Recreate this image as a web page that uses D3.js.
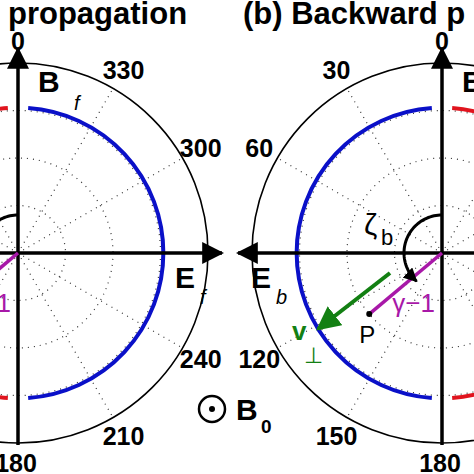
<!DOCTYPE html>
<html><head><meta charset="utf-8">
<script src="https://cdn.jsdelivr.net/npm/d3@7"></script>
<style>body{margin:0;background:#fff}</style>
</head><body>
<svg id="c" width="474" height="474"></svg>
<script>
// angle ticks (degrees, counter-clockwise from top)
var tickAngles = [30, 60, 120, 150, 210, 240, 300, 330];
var gridRings = [0.25, 0.5, 0.75];   // fraction of outer radius
var circleRadius = 0.765;            // coloured circle, fraction of outer radius
var panels = [
    {name: "f", cx: 18, title: "propagation", titleX: 8, side: 1,
     gammaAngle: 130, zeta: 60, zetaArrow: false},
    {name: "b", cx: 442, title: "(b) Backward p", titleX: 243, side: -1,
     gammaAngle: 130, zeta: 140, zetaArrow: true}
];

var svg = d3.select("#c");
var cy = 253, R = 190;
var r = d3.scaleLinear().domain([0, 1]).range([0, R]);
var font = "Liberation Sans, Arial, sans-serif";

var defs = svg.append("defs");
function marker(id, color, w){
    defs.append("marker").attr("id", id).attr("viewBox", "0 0 10 10")
        .attr("refX", 9).attr("refY", 5).attr("markerWidth", w).attr("markerHeight", w)
        .attr("markerUnits", "userSpaceOnUse").attr("orient", "auto")
        .append("path").attr("d", "M0,0L10,5L0,10Z").attr("fill", color);
}
marker("ab", "#000", 22);
marker("ag", "#138013", 24);
marker("as", "#000", 14);

// point at angle a (deg ccw from top), radius rr
function pt(cx, a, rr){
    var t = a * Math.PI / 180;
    return [cx - rr * Math.sin(t), cy - rr * Math.cos(t)];
}

panels.forEach(function(p){
    var g = svg.append("g");
    var cx = p.cx;
    // dotted grid
    gridRings.forEach(function(f){
        g.append("circle").attr("cx", cx).attr("cy", cy).attr("r", r(f))
            .attr("fill", "none").attr("stroke", "#333").attr("stroke-width", 1.2)
            .attr("stroke-dasharray", "1,5");
    });
    d3.range(0, 360, 30).forEach(function(a){
        var e = pt(cx, a, R);
        g.append("line").attr("x1", cx).attr("y1", cy).attr("x2", e[0]).attr("y2", e[1])
            .attr("stroke", "#333").attr("stroke-width", 1.2).attr("stroke-dasharray", "1,5");
    });
    g.append("circle").attr("cx", cx).attr("cy", cy).attr("r", R)
        .attr("fill", "none").attr("stroke", "#000").attr("stroke-width", 1.6);
    // blue/red circle halves
    var gap = 0.07;
    var right = {s: gap, e: Math.PI - gap}, left = {s: Math.PI + gap, e: 2 * Math.PI - gap};
    var blue = p.side > 0 ? right : left, red = p.side > 0 ? left : right;
    [[blue, "#0a10c8"], [red, "#e0141e"]].forEach(function(d){
        g.append("path").attr("transform", "translate(" + cx + "," + cy + ")")
            .attr("d", d3.arc()({innerRadius: r(circleRadius), outerRadius: r(circleRadius),
                startAngle: d[0].s, endAngle: d[0].e}))
            .attr("fill", "none").attr("stroke", d[1]).attr("stroke-width", 4);
    });
    // angle labels (only those inside the picture)
    tickAngles.forEach(function(a){
        var q = pt(cx, a, R + 21);
        if (q[0] < 20 || q[0] > 454) return;
        g.append("text").attr("x", q[0]).attr("y", q[1] + 9).attr("text-anchor", "middle")
            .attr("font-family", font).attr("font-weight", "bold").attr("font-size", 25)
            .text(a);
    });
    g.append("text").attr("x", cx - 2).attr("y", 474 - 2).attr("text-anchor", "middle")
        .attr("font-family", font).attr("font-weight", "bold").attr("font-size", 25).text("180");
    g.append("text").attr("x", cx).attr("y", 50).attr("text-anchor", "middle")
        .attr("font-family", font).attr("font-weight", "bold").attr("font-size", 25).text("0");
    // axes
    g.append("line").attr("x1", cx).attr("y1", cy + R + 2).attr("x2", cx).attr("y2", cy - R - 14)
        .attr("stroke", "#000").attr("stroke-width", 3.5).attr("marker-end", "url(#ab)");
    g.append("line").attr("x1", cx - p.side * 40).attr("y1", cy).attr("x2", cx + p.side * (R + 14)).attr("y2", cy)
        .attr("stroke", "#000").attr("stroke-width", 3.5).attr("marker-end", "url(#ab)");
    // B and E labels
    var bx = cx + 12;
    g.append("text").attr("x", bx + 8).attr("y", 92).attr("font-family", font)
        .attr("font-weight", "bold").attr("font-size", 30).text("B");
    g.append("text").attr("x", bx + 44).attr("y", 110).attr("font-family", font)
        .attr("font-style", "italic").attr("font-size", 20).text(p.name);
    var ex = p.side > 0 ? cx + 157 : cx - 191;
    g.append("text").attr("x", ex).attr("y", 288).attr("font-family", font)
        .attr("font-weight", "bold").attr("font-size", 30).text("E");
    g.append("text").attr("x", ex + 25).attr("y", 304).attr("font-family", font)
        .attr("font-style", "italic").attr("font-size", 20).text(p.name);
    // gamma-1 line
    var P = pt(cx, p.gammaAngle, 95);
    g.append("line").attr("x1", cx).attr("y1", cy).attr("x2", P[0]).attr("y2", P[1])
        .attr("stroke", "#a818a8").attr("stroke-width", 3.5);
    g.append("circle").attr("cx", P[0]).attr("cy", P[1]).attr("r", 3).attr("fill", "#000");
    g.append("text").attr("x", P[0] + 23).attr("y", P[1] - 2).attr("font-family", font)
        .attr("font-size", 26).attr("fill", "#a818a8").text("\u03b3\u22121");
    // zeta arc
    var za = d3.range(0, p.zeta + 1, 3).map(function(a){ return pt(cx, a, 38); });
    var zp = g.append("path").attr("d", d3.line()(za)).attr("fill", "none")
        .attr("stroke", "#000").attr("stroke-width", 3);
    if (p.zetaArrow) {
        zp.attr("marker-end", "url(#as)");
        g.append("text").attr("x", cx - 78).attr("y", 235).attr("font-family", font)
            .attr("font-size", 30).text("\u03b6");
        g.append("text").attr("x", cx - 61).attr("y", 245).attr("font-family", font)
            .attr("font-size", 22).text("b");
        g.append("text").attr("x", P[0] - 10).attr("y", P[1] + 29).attr("font-family", font)
            .attr("font-size", 24).text("P");
        // v_perp arrow
        g.append("line").attr("x1", cx - 52).attr("y1", cy + 20).attr("x2", cx - 124).attr("y2", cy + 76)
            .attr("stroke", "#138013").attr("stroke-width", 4).attr("marker-end", "url(#ag)");
        g.append("text").attr("x", cx - 150).attr("y", cy + 87).attr("font-family", font)
            .attr("font-weight", "bold").attr("font-size", 26).attr("fill", "#138013").text("v");
        g.append("text").attr("x", cx - 138).attr("y", cy + 110).attr("font-family", font)
            .attr("font-size", 22).attr("fill", "#138013").text("\u22a5");
    }
    g.append("text").attr("x", p.titleX).attr("y", 24).attr("font-family", font)
        .attr("font-weight", "bold").attr("font-size", 31).text(p.title);
});

// B0 out of page
svg.append("circle").attr("cx", 212).attr("cy", 409).attr("r", 13).attr("fill", "none")
    .attr("stroke", "#000").attr("stroke-width", 2.5);
svg.append("circle").attr("cx", 212).attr("cy", 409).attr("r", 3).attr("fill", "#000");
svg.append("text").attr("x", 236).attr("y", 420).attr("font-family", font)
    .attr("font-weight", "bold").attr("font-size", 30).text("B");
svg.append("text").attr("x", 261).attr("y", 433).attr("font-family", font)
    .attr("font-weight", "bold").attr("font-size", 19).text("0");
</script>
</body></html>
